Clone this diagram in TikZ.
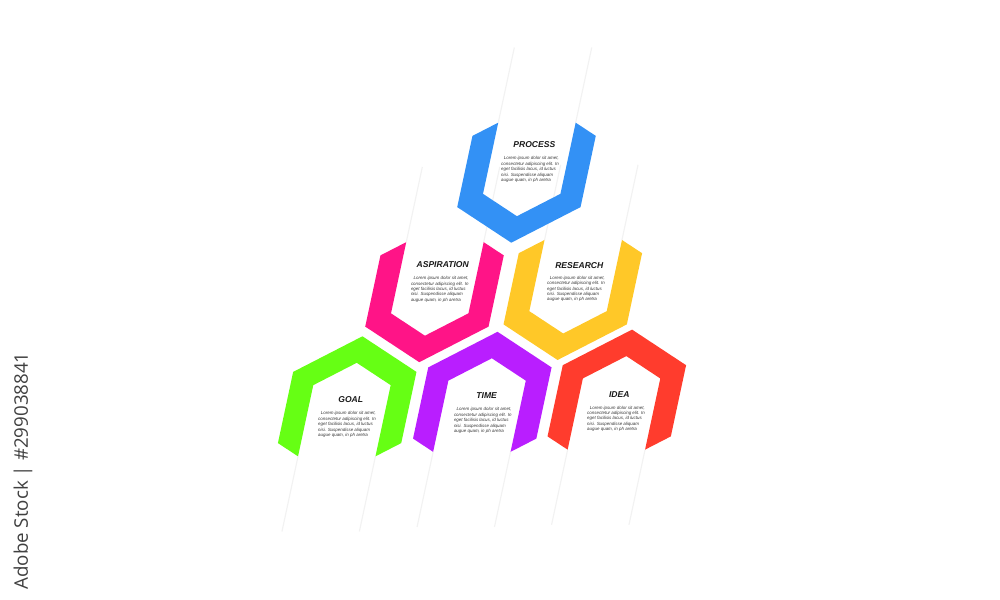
\documentclass[tikz,border=0pt]{standalone}
\usepackage{fontspec}
\setmainfont{Liberation Sans}
\newfontfamily\stockfont{Open Sans}
\definecolor{processblue}{HTML}{3391F5}
\definecolor{aspirationpink}{HTML}{FF1487}
\definecolor{researchyellow}{HTML}{FFC828}
\definecolor{goalgreen}{HTML}{66FF14}
\definecolor{timepurple}{HTML}{B91EFF}
\definecolor{ideared}{HTML}{FF3C2D}
\tikzset{
  streak/.style={draw=black!5, line width=1pt},
  hextitle/.style={font=\fontsize{7.3}{8}\selectfont\bfseries\itshape, text=black!90, inner sep=0pt},
  hexbody/.style={font=\fontsize{3.8}{4.6}\selectfont\itshape, text=black!80, align=left, inner sep=0pt},
}
\begin{document}
\begin{tikzpicture}[x=0.3mm, y=-0.3mm]
\useasboundingbox (0,0) rectangle (1000,600);
% faint bands behind the rings
\foreach \cx/\cy/\s in {526.5/171.5/1, 434.5/291/1, 572.8/288.8/1, 347.2/407.5/-1, 482.3/403/-1, 616.8/400.8/-1}
{
\begin{scope}[shift={(\cx,\cy)}, xslant=0.214, yscale=\s]
\draw[streak] (-38.7,-48.9) -- (-38.7,-124);
\draw[streak] (38.7,-48.9) -- (38.7,-124);
\end{scope}
}
% open hexagon rings
\foreach \cx/\cy/\s/\col in {526.5/171.5/1/processblue, 434.5/291/1/aspirationpink, 572.8/288.8/1/researchyellow, 347.2/407.5/-1/goalgreen, 482.3/403/-1/timepurple, 616.8/400.8/-1/ideared}
\fill[\col, shift={(\cx,\cy)}, xslant=0.214, yscale=\s] (-38.71,-48.85) -- (-61.66,-35.6) -- (-61.66,35.6) -- (0,71.2) -- (61.66,35.6) -- (61.66,-35.6) -- (38.71,-48.85) -- (38.71,22.35) -- (0,44.7) -- (-38.71,22.35) -- cycle;
% titles and texts
\foreach \name/\tx/\ty/\bx/\by/\word in {process/534.3/145/530/169.5/PROCESS, aspiration/442.7/265/439.8/289.3/ASPIRATION, research/579.3/265.7/576/289/RESEARCH, goal/350.7/400/347/424.5/GOAL, time/486.7/396/482.8/420.5/TIME, idea/619.3/394.3/616/418.8/IDEA}
{
\node[hextitle] (\name-title) at (\tx,\ty) {\word};
\node[hexbody] (\name-text) at (\bx,\by) {\hspace{0.6em}Lorem ipsum dolor sit amet,\\consectetur adipiscing elit. In\\eget facilisis lacus, id luctus\\nisi. Suspendisse aliquam\\augue quam, in ph aretra};
}
\node[rotate=90, font=\stockfont\fontsize{16}{19}\selectfont, text=black!75] (stockmark) at (23,471) {Adobe Stock | \#299038841};
\end{tikzpicture}
\end{document}
